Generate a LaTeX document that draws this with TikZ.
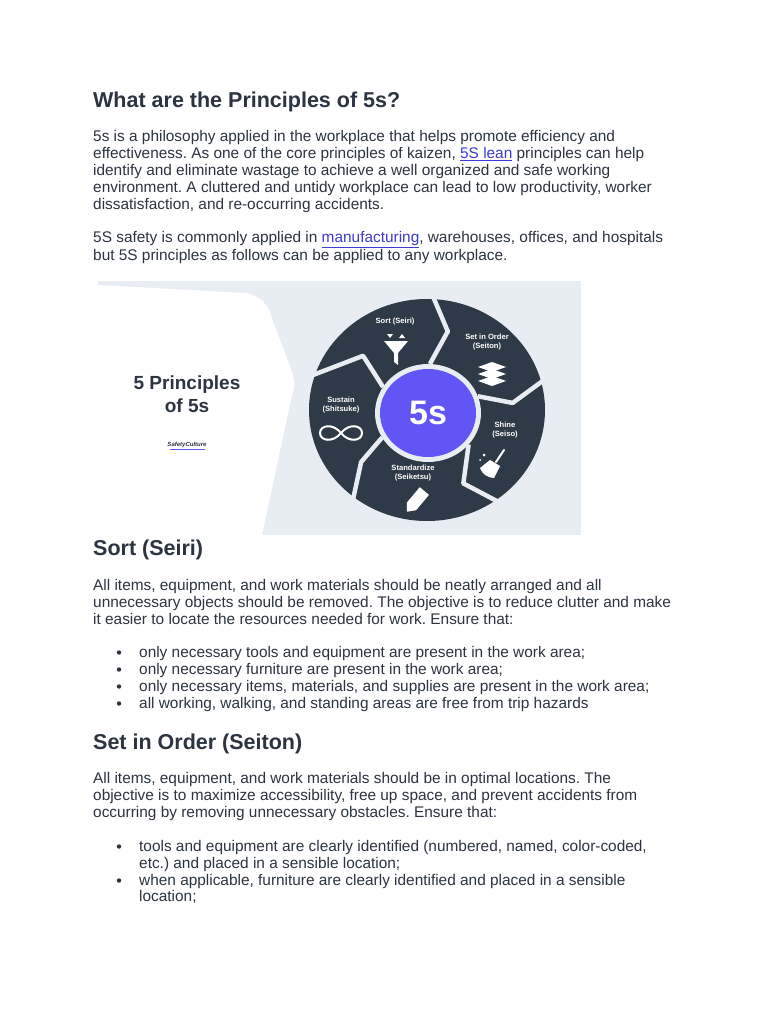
\documentclass[tikz,border=0pt]{standalone}
\usepackage{fontspec}
\usetikzlibrary{calc}
\setmainfont{Liberation Sans}
\definecolor{txt}{HTML}{2B3440}
\definecolor{lnk}{HTML}{3B3BD6}
\definecolor{bgl}{HTML}{E8ECF3}
\definecolor{dark}{HTML}{2E3A47}
\definecolor{purp}{HTML}{6155F5}
\newcommand\lnkU[1]{\textcolor{lnk}{\underline{#1}}}
\frenchspacing
\begin{document}
\begin{tikzpicture}[x=1pt,y=-1pt,
 body/.style={anchor=base west,inner sep=0,text=txt,font=\fontsize{15.4}{17}\selectfont},
 head/.style={anchor=base west,inner sep=0,text=txt,font=\fontsize{21.5}{24}\selectfont\bfseries},
 bul/.style={anchor=base west,inner sep=0,text=txt,font=\fontsize{15.4}{17}\selectfont},
 seg/.style={inner sep=0,text=white,font=\fontsize{7.6}{9}\selectfont\bfseries,align=center},
 gap/.style={bgl,line width=4.5pt,line join=round}]
\useasboundingbox (0,0) rectangle (768,1024);
\fill[white] (0,0) rectangle (768,1024);
\node[head] (t1) at (93,108) {What are the Principles of 5s?};
\node[body] (l1) at (93,142) {5s is a philosophy applied in the workplace that helps promote efficiency and};
\node[body] (l2) at (93,159) {effectiveness. As one of the core principles of kaizen, \lnkU{5S lean} principles can help};
\node[body] (l3) at (93,176) {identify and eliminate wastage to achieve a well organized and safe working};
\node[body] (l4) at (93,193) {environment. A cluttered and untidy workplace can lead to low productivity, worker};
\node[body] (l5) at (93,210) {dissatisfaction, and re-occurring accidents.};
\node[body] (l6) at (93,243) {5S safety is commonly applied in \lnkU{manufacturing}, warehouses, offices, and hospitals};
\node[body] (l7) at (93,260) {but 5S principles as follows can be applied to any workplace.};
% image
\fill[bgl] (98,281) rectangle (581,535);
\fill[white] (98,285) -- (245,293) .. controls (262,296) and (268,305) .. (272,318) -- (292,372) .. controls (295,382) and (295,388) .. (292,395) -- (262,535) -- (98,535) -- cycle;
\node[inner sep=0,text=txt,font=\fontsize{19}{23}\selectfont\bfseries,align=center] (pt) at (187,394) {5 Principles\\of 5s};
\node[inner sep=0,text=txt,font=\fontsize{6}{7}\selectfont\bfseries\itshape] (sc) at (187,445) {SafetyCulture};
\draw[purp,line width=0.6pt] (170,449) -- (205,449);
\coordinate (c) at (427,410);
\coordinate (ci) at (428,413);
\fill[dark] (c) ellipse (118 and 111);
\foreach \i/\m/\o in {148/138/162, 88/76/87, 20/5/15, -40/-65/-54, -150/-140/-128}{
 \draw[gap] ($(ci)+(-\i:53 and 49)$) -- ($(c)+(-\m:86 and 81)$) -- ($(c)+(-\o:120 and 113)$);
}
\fill[bgl] (ci) ellipse (53 and 49);
\fill[purp] (ci) ellipse (48 and 44);
\node[inner sep=0,text=white,font=\fontsize{34}{34}\selectfont\bfseries] (fs) at (ci) {5s};
\node[seg] (s1) at (395,322) {Sort (Seiri)};
\node[seg] (s2) at (487,342) {Set in Order\\(Seiton)};
\node[seg] (s3) at (505,430) {Shine\\(Seiso)};
\node[seg] (s4) at (413,473) {Standardize\\(Seiketsu)};
\node[seg] (s5) at (341,405) {Sustain\\(Shitsuke)};
% icons
\fill[white] (384,341) -- (408,341) -- (398,353) -- (398,365) -- (394,362) -- (394,353) -- cycle;
\fill[white] (387,334) -- (393,334) -- (390,338) -- cycle;
\fill[white] (399,338) -- (405,338) -- (402,334) -- cycle;
\foreach \dy in {0,7,14}{\fill[white] (492,362+\dy) -- (506,367+\dy) -- (492,372+\dy) -- (478,367+\dy) -- cycle;}
\draw[white,line width=2pt,line cap=round] (504,450) -- (496,462);
\fill[white] (490,460) -- (500,466) -- (494,478) .. controls (488,478) and (482,474) .. (480,468) -- cycle;
\fill[white] (484,455) circle (1.5) (480,460) circle (1);
\fill[white,rotate around={-40:(416,501)}] (410,488) -- (422,488) -- (422,508) -- (416,515) -- (410,508) -- cycle;
\fill[dark] (412,493) circle (1.5);
\draw[white,line width=2pt] (341,433) .. controls (349,423) and (362,425) .. (362,433) .. controls (362,441) and (349,443) .. (341,433) .. controls (333,423) and (320,425) .. (320,433) .. controls (320,441) and (333,443) .. (341,433);
% sections
\node[head] (h2) at (93,555) {Sort (Seiri)};
\node[body] (p1) at (93,590) {All items, equipment, and work materials should be neatly arranged and all};
\node[body] (p2) at (93,607) {unnecessary objects should be removed. The objective is to reduce clutter and make};
\node[body] (p3) at (93,624) {it easier to locate the resources needed for work. Ensure that:};
\foreach \y/\t in {657/{only necessary tools and equipment are present in the work area;},674/{only necessary furniture are present in the work area;},691/{only necessary items, materials, and supplies are present in the work area;},708/{all working, walking, and standing areas are free from trip hazards}}{
 \node[bul] at (139,\y) {\t};
 \fill[txt] (119,\y-4.5) circle (2.2);
}
\node[head] (h3) at (93,749) {Set in Order (Seiton)};
\node[body] (q1) at (93,783) {All items, equipment, and work materials should be in optimal locations. The};
\node[body] (q2) at (93,800) {objective is to maximize accessibility, free up space, and prevent accidents from};
\node[body] (q3) at (93,817) {occurring by removing unnecessary obstacles. Ensure that:};
\node[bul] (b1) at (139,851) {tools and equipment are clearly identified (numbered, named, color-coded,};
\node[bul] (b2) at (139,868) {etc.) and placed in a sensible location;};
\node[bul] (b3) at (139,885) {when applicable, furniture are clearly identified and placed in a sensible};
\node[bul] (b4) at (139,901) {location;};
\fill[txt] (119,846.5) circle (2.2) (119,880.5) circle (2.2);
\end{tikzpicture}
\end{document}
